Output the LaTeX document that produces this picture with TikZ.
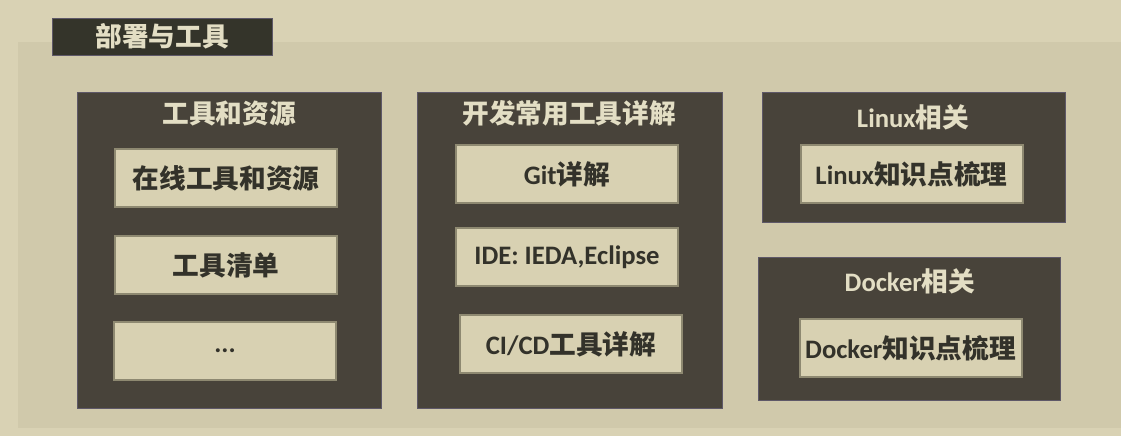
\documentclass[tikz,border=0pt]{standalone}
\usepackage{fontspec}
\setmainfont{Noto Sans CJK SC}
\newfontfamily\latinfont{Carlito}
\usepackage{tikz}
\usetikzlibrary{positioning}

\definecolor{bgouter}{HTML}{D9D2B4}
\definecolor{bginner}{HTML}{D0C9AB}
\definecolor{darkbox}{HTML}{48433A}
\definecolor{titlebox}{HTML}{34342A}
\definecolor{edgepurple}{HTML}{5E5868}
\definecolor{itemfill}{HTML}{D8D1B2}
\definecolor{itemedge}{HTML}{8E8971}
\definecolor{lighttext}{HTML}{E3DEC4}
\definecolor{darktext}{HTML}{33322A}

\newcommand{\lat}[1]{{\latinfont #1}}

\tikzset{
	group/.style={draw=edgepurple,line width=0.75pt,fill=darkbox,inner sep=0pt},
	head/.style={text=lighttext,font=\bfseries\fontsize{20}{24}\selectfont},
	item/.style={draw=itemedge,line width=1.5pt,fill=itemfill,text=darktext,minimum width=166.5pt,minimum height=44pt,font=\bfseries\fontsize{20}{24}\selectfont}
}

\begin{document}
\begin{tikzpicture}[x=0.75pt,y=-0.75pt]
					\fill[bgouter] (0,0) rectangle (1121,436);
					\fill[bginner] (18,42) rectangle (1121,428);
					\useasboundingbox (0,0) rectangle (1121,436);

					\node (deploy) at (162,36.5) [group,fill=titlebox,minimum width=165pt,minimum height=27.75pt,head] {部署与工具};

					\node (tools) at (229,250) [group,minimum width=228pt,minimum height=237pt] {};
					\node (toolshead) at (229,113) [head] {工具和资源};
					\node (online) at (226,178) [item] {在线工具和资源};
					\node (list) at (226,265) [item] {工具清单};
					\node (more) at (225,351) [item] {\lat{...}};

					\node (dev) at (569.5,250) [group,minimum width=228.75pt,minimum height=237pt] {};
					\node (devhead) at (569,113) [head] {开发常用工具详解};
					\node (git) at (567,174) [item] {\lat{Git}详解};
					\node (ide) at (567,257) [item] {\lat{IDE: IEDA,Eclipse}};
					\node (cicd) at (571,344) [item] {\lat{CI/CD}工具详解};

					\node (linux) at (913.5,157) [group,minimum width=227.25pt,minimum height=97.5pt] {};
					\node (linuxhead) at (913,117) [head] {\lat{Linux}相关};
					\node (linuxnote) at (911.5,174) [item] {\lat{Linux}知识点梳理};

					\node (docker) at (909,328.5) [group,minimum width=226.5pt,minimum height=107.25pt] {};
					\node (dockerhead) at (910,281) [head] {\lat{Docker}相关};
					\node (dockernote) at (910.5,348) [item] {\lat{Docker}知识点梳理};
				\end{tikzpicture}
\end{document}
